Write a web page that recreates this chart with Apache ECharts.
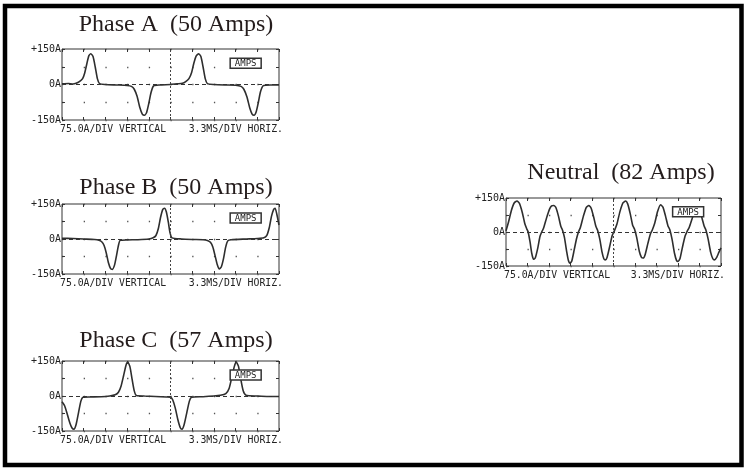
<!DOCTYPE html>
<html>
<head>
<meta charset="utf-8">
<script src="https://cdn.jsdelivr.net/npm/echarts@6/dist/echarts.min.js"></script>
<style>
html,body{margin:0;padding:0;background:#fff;}
#c{width:749px;height:472px;}
</style>
</head>
<body>
<div id="c"></div>
<script>
// ---- data (x in scope divisions 0..10, y in amps) ----
const titles = ['Phase A  (50 Amps)', 'Phase B  (50 Amps)', 'Phase C  (57 Amps)', 'Neutral  (82 Amps)'];
const yTickValues = [-150, -75, 0, 75, 150];
const yTickText = ['-150A', '', '0A', '', '+150A'];
const vertText = '75.0A/DIV VERTICAL';
const horizText = '3.3MS/DIV HORIZ.';
const badgeText = 'AMPS';

const phaseA = [[0,3],[0.3,4],[0.5,2],[0.65,5],[0.8,12],[0.95,25],[1.05,50],[1.15,90],[1.24,122],[1.33,130],[1.43,118],[1.53,75],[1.63,25],[1.73,4],[2.0,0],[2.5,-2],[3.0,-4],[3.2,-8],[3.33,-20],[3.46,-50],[3.58,-95],[3.7,-125],[3.8,-130],[3.9,-118],[4.0,-80],[4.1,-35],[4.22,-6],[4.5,-2],[5.0,0],
  [5.3,3],[5.55,5],[5.7,12],[5.85,25],[5.97,50],[6.07,88],[6.18,120],[6.3,130],[6.4,118],[6.5,75],[6.6,25],[6.7,4],[7.0,0],[7.5,-2],[8.0,-3],[8.25,-8],[8.38,-20],[8.52,-52],[8.65,-98],[8.76,-125],[8.85,-130],[8.95,-115],[9.05,-75],[9.15,-30],[9.28,-5],[9.6,-2],[10,-2]];

const phaseB = [[0,3],[0.5,2],[1.0,0],[1.5,-2],[1.7,-5],[1.83,-12],[1.94,-28],[2.04,-60],[2.14,-102],[2.24,-127],[2.32,-130],[2.42,-112],[2.51,-72],[2.6,-28],[2.68,-6],[3.0,-4],[3.5,-3],[4.0,0],[4.2,5],[4.33,15],[4.44,45],[4.54,92],[4.64,126],[4.72,132],[4.81,116],[4.9,72],[4.98,26],[5.07,5],[5.5,0],[6.0,-2],[6.5,-3],[6.7,-6],[6.84,-14],[6.95,-34],[7.05,-70],[7.15,-108],[7.25,-128],[7.34,-120],[7.44,-85],[7.54,-36],[7.64,-8],[7.8,-3],[8.5,0],[9.0,2],[9.3,5],[9.44,16],[9.55,48],[9.65,96],[9.75,126],[9.82,132],[9.9,106],[10,60]];

const phaseC = [[0,-25],[0.12,-42],[0.25,-80],[0.37,-118],[0.47,-138],[0.55,-142],[0.65,-122],[0.76,-72],[0.87,-22],[0.97,-5],[1.3,-4],[1.8,-3],[2.2,0],[2.45,5],[2.6,16],[2.72,42],[2.84,88],[2.95,132],[3.03,145],[3.13,126],[3.23,72],[3.33,22],[3.43,2],[3.8,0],[4.3,-2],[4.8,-4],[5.0,-5],[5.1,-16],[5.22,-52],[5.34,-102],[5.45,-136],[5.53,-142],[5.63,-122],[5.75,-72],[5.87,-22],[5.97,-5],[6.5,-3],[7.0,0],[7.3,3],[7.55,10],[7.7,32],[7.82,78],[7.94,126],[8.03,145],[8.13,128],[8.23,76],[8.35,22],[8.48,3],[9.0,0],[9.5,-2],[10,-2]];

const neutral = [[0,5],[0.12,45],[0.25,95],[0.38,128],[0.51,137],[0.63,125],[0.76,85],[0.88,35],[0.96,15],[1.03,0],[1.12,-45],[1.2,-95],[1.28,-120],[1.36,-115],[1.48,-70],[1.58,-20],[1.66,0],[1.74,15],[1.88,60],[2.02,100],[2.12,115],[2.22,117],
  [2.32,108],[2.44,70],[2.55,25],[2.63,8],[2.72,-25],[2.82,-85],[2.9,-125],[2.98,-138],[3.06,-128],[3.17,-80],[3.28,-30],[3.37,0],[3.46,20],[3.6,70],[3.73,108],[3.85,117],
  [3.96,105],[4.08,65],[4.18,25],[4.26,8],[4.36,-30],[4.47,-90],[4.55,-118],[4.62,-123],[4.7,-112],[4.82,-65],[4.94,-15],[5.04,5],[5.16,35],[5.3,90],[5.44,128],[5.56,137],
  [5.66,124],[5.78,80],[5.89,30],[5.98,12],[6.08,-25],[6.2,-85],[6.3,-112],[6.38,-115],[6.47,-100],[6.6,-50],[6.72,-8],[6.8,8],[6.92,40],[7.05,90],[7.19,120],
  [7.3,110],[7.42,70],[7.53,28],[7.62,10],[7.72,-30],[7.84,-95],[7.93,-125],[8.0,-130],[8.09,-118],[8.2,-70],[8.33,-18],[8.42,2],[8.52,20],[8.66,60],[8.8,95],[8.9,102],
  [9.0,95],[9.12,60],[9.22,25],[9.3,8],[9.4,-30],[9.52,-90],[9.62,-118],[9.7,-123],[9.8,-112],[9.9,-90],[10,-70]];

const traces = [phaseA, phaseB, phaseC, neutral];

// ---- layout ----
const panels = [
  {left: 62, top: 49, width: 217, height: 71, titleX: 176, titleY: 25},
  {left: 62, top: 204, width: 217, height: 70, titleX: 176, titleY: 188},
  {left: 62, top: 361, width: 217, height: 70, titleX: 176, titleY: 341},
  {left: 506, top: 198, width: 215, height: 68, titleX: 621, titleY: 173}
];
const ink = '#333';
const mono = 'DejaVu Sans Mono';

const grid = [], xAxis = [], yAxis = [], series = [], graphic = [];
panels.forEach((p, i) => {
  grid.push({left: p.left, top: p.top, width: p.width, height: p.height, show: true,
    borderColor: ink, borderWidth: 1, backgroundColor: 'transparent'});
  const divW = p.width / 10;
  const tick = {show: true, inside: true, length: 3, lineStyle: {color: ink}};
  xAxis.push({gridIndex: i, type: 'value', min: 0, max: 10, interval: 1, position: 'bottom',
    axisLine: {show: false, onZero: false}, axisLabel: {show: false}, axisTick: tick, splitLine: {show: false}});
  xAxis.push({gridIndex: i, type: 'value', min: 0, max: 10, interval: 1, position: 'top',
    axisLine: {show: false, onZero: false}, axisLabel: {show: false}, axisTick: tick, splitLine: {show: false}});
  yAxis.push({gridIndex: i, type: 'value', min: -150, max: 150, interval: 75, position: 'left',
    axisLine: {show: false, onZero: false}, axisTick: tick,
    axisLabel: {show: true, margin: 1, fontFamily: mono, fontSize: 10, color: '#222',
      formatter: v => yTickText[yTickValues.indexOf(v)] || ''},
    splitLine: {show: true, lineStyle: {color: '#555', width: 1.3, type: [1.3, divW - 1.3]}}});
  yAxis.push({gridIndex: i, type: 'value', min: -150, max: 150, interval: 75, position: 'right',
    axisLine: {show: false, onZero: false}, axisLabel: {show: false}, axisTick: tick, splitLine: {show: false}});
  series.push({type: 'line', xAxisIndex: i * 2, yAxisIndex: i * 2, data: traces[i],
    showSymbol: false, smooth: 0.2, silent: true, animation: false,
    lineStyle: {color: '#2e2e2e', width: 1.6},
    markLine: {silent: true, symbol: 'none', label: {show: false}, animation: false,
      data: [
        {yAxis: 0, lineStyle: {color: '#333', type: [4, 3], width: 1}},
        {xAxis: 5, lineStyle: {color: '#444', type: [2, 2], width: 1}}
      ]}});
  graphic.push({type: 'text', x: p.titleX, y: p.titleY,
    style: {text: titles[i], font: '24px "Liberation Serif"', fill: '#241c1c',
      textAlign: 'center', textVerticalAlign: 'middle'}});
  const by = p.top + p.height + 9;
  graphic.push({type: 'text', x: p.left - 2, y: by,
    style: {text: vertText, font: '9.8px "' + mono + '"', fill: '#222', textAlign: 'left', textVerticalAlign: 'middle'}});
  graphic.push({type: 'text', x: p.left + p.width + 4, y: by,
    style: {text: horizText, font: '9.8px "' + mono + '"', fill: '#222', textAlign: 'right', textVerticalAlign: 'middle'}});
  const bx = p.left + p.width * 0.775, bw = 31, bh = 10;
  const byy = p.top + p.height * 0.13;
  graphic.push({type: 'rect', shape: {x: bx, y: byy, width: bw, height: bh},
    style: {fill: '#fff', stroke: '#333', lineWidth: 1.5}, z: 10});
  graphic.push({type: 'text', x: bx + bw / 2, y: byy + bh / 2 + 0.5, z: 11,
    style: {text: badgeText, font: '9px "' + mono + '"', fill: '#222', textAlign: 'center', textVerticalAlign: 'middle'}});
});

graphic.push({type: 'rect', shape: {x: 5, y: 6, width: 736.5, height: 459},
  style: {fill: 'none', stroke: '#000', lineWidth: 4.5}, z: 20});

const chart = echarts.init(document.getElementById('c'), null, {renderer: 'canvas'});
chart.setOption({animation: false, backgroundColor: '#fff', grid, xAxis, yAxis, series, graphic});
</script>
</body>
</html>
